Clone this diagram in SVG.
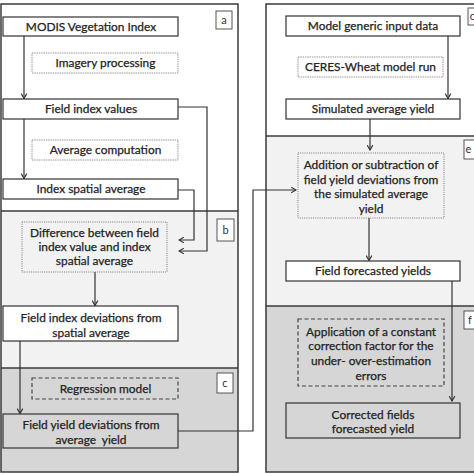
<svg xmlns="http://www.w3.org/2000/svg" width="474" height="474" viewBox="0 0 474 474">
<defs>
<style>
.panel{stroke:#3a3a3a;stroke-width:1.5;}
.div{stroke:#3a3a3a;stroke-width:1.5;fill:none;}
.box{fill:#fff;stroke:#333;stroke-width:1.2;}
.gbox{fill:#d6d6d6;stroke:#333;stroke-width:1.2;}
.proc{fill:#fff;stroke:#999;stroke-width:1;stroke-dasharray:1.5 0.8;}
.dot{fill:none;stroke:#777;stroke-width:1;stroke-dasharray:1 1.2;}
.dash{fill:none;stroke:#444;stroke-width:1.2;stroke-dasharray:4 2.5;}
.lab{fill:#fff;stroke:#555;stroke-width:1;}
text{font-family:Lato,"Liberation Sans",sans-serif;font-size:11.9px;fill:#222;stroke:#222;stroke-width:0.25;text-anchor:middle;}
.lt{font-size:11px;fill:#333;stroke:none;}
.con{fill:none;stroke:#333;stroke-width:1.2;}
</style>
<marker id="arr" viewBox="0 0 8 10" refX="7.5" refY="5" markerWidth="6" markerHeight="7" markerUnits="userSpaceOnUse" orient="auto">
<path d="M0.5,1 L7.5,5 L0.5,9" fill="none" stroke="#333" stroke-width="1.6"/>
</marker>
</defs>
<rect width="474" height="474" fill="#fff"/>
<!-- left panel -->
<rect x="1" y="4" width="237" height="207" fill="#fff"/>
<rect x="1" y="211" width="237" height="157" fill="#f2f2f2"/>
<rect x="1" y="368" width="237" height="104" fill="#d6d6d6"/>
<rect class="panel" x="1" y="4" width="237" height="468" fill="none"/>
<line class="div" x1="1" y1="211" x2="238" y2="211"/>
<line class="div" x1="1" y1="368" x2="238" y2="368"/>
<!-- right panel -->
<rect x="266" y="4" width="214" height="132" fill="#fff"/>
<rect x="266" y="136" width="214" height="170" fill="#f2f2f2"/>
<rect x="266" y="306" width="214" height="166" fill="#d6d6d6"/>
<rect class="panel" x="266" y="4" width="214" height="468" fill="none"/>
<line class="div" x1="266" y1="136" x2="480" y2="136"/>
<line class="div" x1="266" y1="306" x2="480" y2="306"/>
<!-- section labels -->
<g id="label-a"><rect class="lab" x="216" y="11" width="16" height="18"/><text class="lt" x="224" y="24">a</text></g>
<g id="label-b"><rect class="lab" x="217" y="219" width="17" height="22"/><text class="lt" x="225.5" y="234">b</text></g>
<g id="label-c-left"><rect class="lab" x="217" y="373" width="16" height="20"/><text class="lt" x="225" y="387">c</text></g>
<g id="label-c-right"><rect class="lab" x="468" y="8" width="16" height="17"/><text class="lt" x="472.5" y="20">c</text></g>
<g id="label-e"><rect class="lab" x="464" y="140" width="16" height="19"/><text class="lt" x="468.5" y="153">e</text></g>
<g id="label-f"><rect class="lab" x="464" y="311" width="16" height="18"/><text class="lt" x="470" y="324">f</text></g>
<!-- connectors -->
<g id="connectors">
<line class="con" x1="24" y1="36" x2="24" y2="98.5" marker-end="url(#arr)"/>
<line class="con" x1="24" y1="119" x2="24" y2="178.5" marker-end="url(#arr)"/>
<polyline class="con" points="178,107 207,107 207,251 179,251" marker-end="url(#arr)"/>
<polyline class="con" points="178,190 194,190 194,240 179,240" marker-end="url(#arr)"/>
<line class="con" x1="95" y1="272" x2="95" y2="305.5" marker-end="url(#arr)"/>
<line class="con" x1="20" y1="341" x2="20" y2="413.5" marker-end="url(#arr)"/>
<polyline class="con" points="178,431 253,431 253,190 296,190" marker-end="url(#arr)"/>
<line class="con" x1="448" y1="36" x2="448" y2="98.5" marker-end="url(#arr)"/>
<line class="con" x1="370" y1="119" x2="370" y2="150" marker-end="url(#arr)"/>
<line class="con" x1="369" y1="218" x2="369" y2="260.5" marker-end="url(#arr)"/>
<line class="con" x1="452" y1="281" x2="452" y2="401" marker-end="url(#arr)"/>
</g>
<!-- left nodes -->
<g id="modis"><rect class="box" x="3" y="17" width="175" height="19"/><text x="91" y="30.5">MODIS Vegetation Index</text></g>
<g id="imagery"><rect class="proc" x="32" y="53" width="146" height="20"/><text x="105.5" y="67">Imagery processing</text></g>
<g id="field-index"><rect class="box" x="3" y="99" width="175" height="20"/><text x="91" y="113">Field index values</text></g>
<g id="avg-comp"><rect class="proc" x="32" y="140" width="146" height="20"/><text x="105.5" y="154">Average computation</text></g>
<g id="index-avg"><rect class="box" x="3" y="179" width="175" height="20"/><text x="91" y="193">Index spatial average</text></g>
<g id="difference"><rect class="dot" x="22" y="222" width="145" height="50"/><text x="94.5" y="237">Difference between field</text><text x="94.5" y="251">index value and index</text><text x="94.5" y="264.5">spatial average</text></g>
<g id="field-index-dev"><rect class="box" x="3" y="306" width="175" height="35"/><text x="91" y="322">Field index deviations from</text><text x="91" y="337">spatial average</text></g>
<g id="regression"><rect class="dash" x="32" y="378" width="146" height="21"/><text x="105.5" y="392.5">Regression model</text></g>
<g id="field-yield-dev"><rect class="gbox" x="3" y="414" width="175" height="34"/><text x="91" y="429" xml:space="preserve">Field yield deviations from</text><text x="91" y="444" xml:space="preserve">average  yield</text></g>
<!-- right nodes -->
<g id="model-input"><rect class="box" x="286" y="16" width="174" height="20"/><text x="373" y="30">Model generic input data</text></g>
<g id="ceres"><rect class="proc" x="298" y="57" width="145" height="20"/><text x="370.5" y="71">CERES-Wheat model run</text></g>
<g id="simulated"><rect class="box" x="286" y="99" width="174" height="20"/><text x="373" y="113">Simulated average yield</text></g>
<g id="addition"><rect class="dot" x="298" y="153" width="146" height="65"/><text x="371" y="169">Addition or subtraction of</text><text x="371" y="183.5">field yield deviations from</text><text x="371" y="198">the simulated average</text><text x="371" y="213">yield</text></g>
<g id="forecasted"><rect class="box" x="286" y="261" width="174" height="20"/><text x="373" y="275">Field forecasted yields</text></g>
<g id="application"><rect class="dash" x="298" y="319" width="146" height="67"/><text x="371" y="335.5">Application of a constant</text><text x="371" y="349.5">correction factor for the</text><text x="371" y="364.5">under- over-estimation</text><text x="371" y="379.5">errors</text></g>
<g id="corrected"><rect class="gbox" x="286" y="403" width="174" height="35"/><text x="373" y="419">Corrected fields</text><text x="373" y="433">forecasted yield</text></g>
</svg>
